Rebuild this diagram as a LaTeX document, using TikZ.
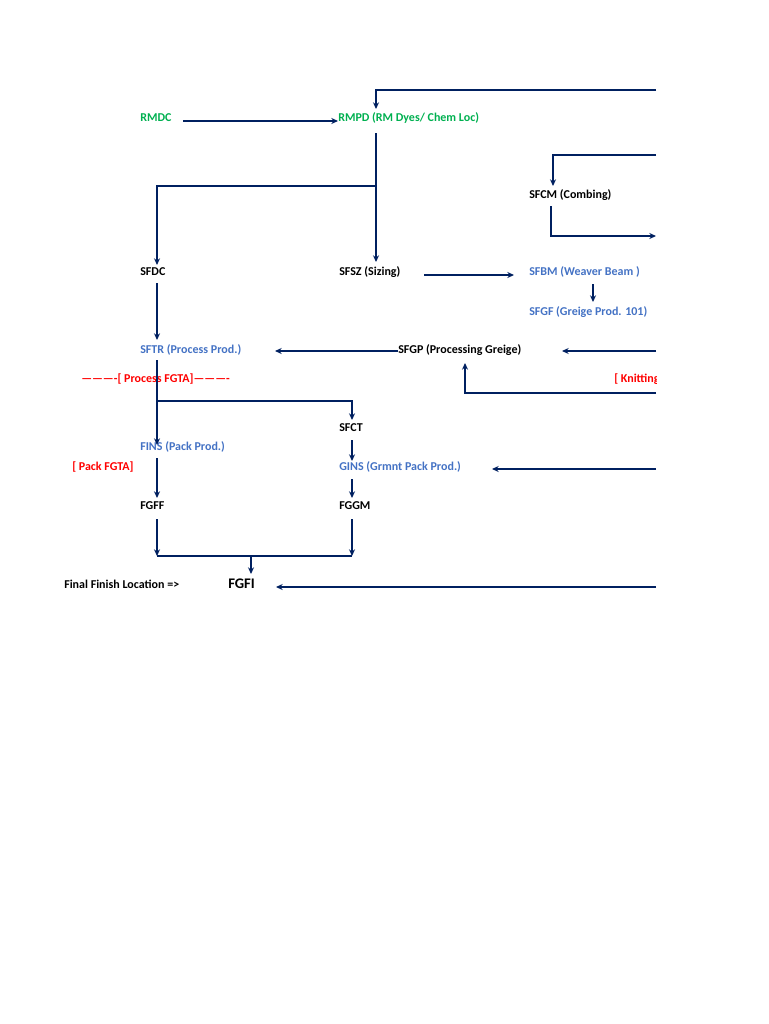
\documentclass[tikz,border=0pt]{standalone}
\usepackage{fontspec}
\setmainfont{Carlito}
\usetikzlibrary{arrows.meta}
\definecolor{gr}{RGB}{0,176,80}
\definecolor{bl}{RGB}{68,114,196}
\definecolor{rd}{RGB}{255,0,0}
\definecolor{nv}{RGB}{0,32,96}
\begin{document}
\begin{tikzpicture}[x=0.75pt,y=-0.75pt,
  lab/.style={anchor=west,inner sep=0pt,font=\fontsize{9}{11}\selectfont\bfseries},
  ar/.style={draw=nv,line width=1.1pt,-{Stealth[length=5pt,width=4.5pt]}},
  ln/.style={draw=nv,line width=1.1pt}]
\useasboundingbox (0,0) rectangle (768,1024);
\begin{scope}
\clip (0,0) rectangle (656,1024);
\node[lab,gr] (rmdc) at (140,118) {RMDC};
\node[lab,gr] (rmpd) at (338,118) {RMPD (RM Dyes/ Chem Loc)};
\node[lab] (sfcm) at (529,195) {SFCM (Combing)};
\node[lab] (sfdc) at (140,272) {SFDC};
\node[lab] (sfsz) at (339,272) {SFSZ (Sizing)};
\node[lab,bl] (sfbm) at (529,272) {SFBM (Weaver Beam )};
\node[lab,bl] (sfgf) at (529,312) {SFGF (Greige Prod. 101)};
\node[lab,bl] (sftr) at (140,350) {SFTR (Process Prod.)};
\node[lab] (sfgp) at (398,350) {SFGP (Processing Greige)};
\node[lab,rd] (pfgta) at (81,379) {----------[ Process FGTA]----------};
\node[lab,rd] (kfgta) at (614,379) {[ Knitting FGTA]};
\node[lab] (sfct) at (339,428) {SFCT};
\node[lab,bl] (fins) at (140,447) {FINS (Pack Prod.)};
\node[lab,rd] (packf) at (72,467) {[ Pack FGTA]};
\node[lab,bl] (gins) at (339,467) {GINS (Grmnt Pack Prod.)};
\node[lab] (fgff) at (140,506) {FGFF};
\node[lab] (fggm) at (339,506) {FGGM};
\node[lab] (ffl) at (64,584) {Final Finish Location =>};
\node[lab,font=\fontsize{11}{13}\selectfont\bfseries] (fgfi) at (228,584) {FGFI};
\coordinate (e1) at (656,90);
\coordinate (e2) at (656,155);
\coordinate (e3) at (656,236);
\coordinate (e4) at (656,351);
\coordinate (e5) at (656,393);
\coordinate (e6) at (656,469);
\coordinate (e7) at (656,587);
\coordinate (j1) at (376,186);
\coordinate (j2) at (157,401);
\coordinate (j3) at (157,556);
\coordinate (j4) at (352,556);
\coordinate (j5) at (251,556);
\draw[ar] (183,121) -- (rmpd.west|-0,121);
\draw[ar] (e1) -- (376,90) -- (376,109);
\draw[ln,-] (376,91) -- (376,89);
\draw[ar] (376,133) -- (376,262);
\draw[ar] (j1) -- (157,186) -- (157,265);
\draw[ar] (e2) -- (553,155) -- (553,186);
\draw[ar] (551,206) -- (551,236) -- (e3);
\draw[ar] (424,275) -- (514,275);
\draw[ar] (593,284) -- (593,302);
\draw[ar] (157,283) -- (157,340);
\draw[ar] (sfgp.west|-0,351) -- (275,351);
\draw[ar] (e4) -- (562,351);
\draw[ar] (e5) -- (465,393) -- (465,363);
\draw[ar] (157,360) -- (157,445);
\draw[ar] (j2) -- (352,401) -- (352,420);
\draw[ar] (352,440) -- (352,461);
\draw[ar] (e6) -- (492,469);
\draw[ar] (352,479) -- (352,498);
\draw[ar] (157,458) -- (157,498);
\draw[ar] (157,519) -- (j3);
\draw[ar] (352,519) -- (j4);
\draw[ln] (j3) -- (j4);
\draw[ar] (j5) -- (251,574);
\draw[ar] (e7) -- (276,587);
\end{scope}
\end{tikzpicture}
\end{document}
